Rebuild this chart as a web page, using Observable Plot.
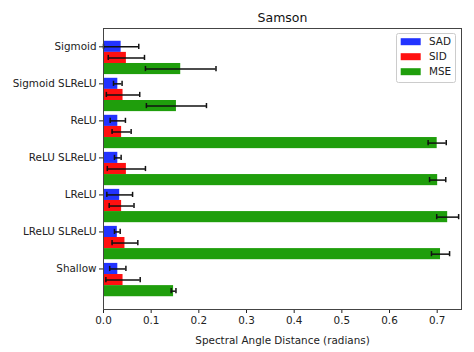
<!DOCTYPE html>
<html>
<head>
<meta charset="utf-8">
<script src="https://cdn.jsdelivr.net/npm/d3@7"></script>
<script src="https://cdn.jsdelivr.net/npm/@observablehq/plot@0.6"></script>
<style>
  html, body { margin: 0; padding: 0; background: #fff; }
  #chart svg { display: block; }
</style>
</head>
<body>
<div id="chart"></div>
<script>
const title = "Samson";
const xLabel = "Spectral Angle Distance (radians)";
const categories = ["Sigmoid", "Sigmoid SLReLU", "ReLU", "ReLU SLReLU", "LReLU", "LReLU SLReLU", "Shallow"];
const metrics = ["SAD", "SID", "MSE"];
const colors = ["#2233ff", "#ff1010", "#1f9e0c"];
const xTicks = [0, 0.1, 0.2, 0.3, 0.4, 0.5, 0.6, 0.7];

const sad    = [0.037, 0.030, 0.030, 0.030, 0.034, 0.029, 0.030];
const sadErr = [0.037, 0.009, 0.016, 0.007, 0.027, 0.006, 0.017];
const sid    = [0.048, 0.041, 0.038, 0.048, 0.038, 0.045, 0.041];
const sidErr = [0.038, 0.035, 0.020, 0.040, 0.026, 0.027, 0.036];
const mse    = [0.162, 0.153, 0.700, 0.701, 0.722, 0.707, 0.147];
const mseErr = [0.074, 0.063, 0.019, 0.017, 0.023, 0.019, 0.005];

const series = [[sad, sadErr], [sid, sidErr], [mse, mseErr]];
const rows = [];
categories.forEach((c, i) => {
  series.forEach(([vals, errs], k) => {
    rows.push({cat: c, i, k, metric: metrics[k], value: vals[i], err: errs[i], c: i + k * 0.3});
  });
});

const barH = 0.3;
const capH = 0.07;

const plot = Plot.plot({
  width: 474,
  height: 352,
  marginLeft: 103,
  marginRight: 13,
  marginTop: 28,
  marginBottom: 43,
  style: {fontFamily: "DejaVu Sans", fontSize: "10.4px", background: "#fff", color: "#222"},
  x: {domain: [0, 0.751], ticks: xTicks, tickFormat: d3.format(".1f"), label: null, tickSize: 4, tickPadding: 3},
  y: {domain: [-0.495, 7.095], reverse: true, ticks: d3.range(categories.length), tickFormat: i => categories[i], label: null, tickSize: 4, tickPadding: 3},
  marks: [
    Plot.rectX(rows, {x1: 0, x2: "value", y1: d => d.c - barH / 2, y2: d => d.c + barH / 2, fill: d => colors[d.k]}),
    Plot.ruleY(rows, {y: "c", x1: d => d.value - d.err, x2: d => d.value + d.err, stroke: "#111", strokeWidth: 1.5}),
    Plot.ruleX(rows, {x: d => d.value - d.err, y1: d => d.c - capH, y2: d => d.c + capH, stroke: "#111", strokeWidth: 1.5}),
    Plot.ruleX(rows, {x: d => d.value + d.err, y1: d => d.c - capH, y2: d => d.c + capH, stroke: "#111", strokeWidth: 1.5}),
    Plot.frame({stroke: "#444", strokeWidth: 1}),
    Plot.text([title], {frameAnchor: "top", dy: -11, fontSize: 12.5, fill: "#111", lineAnchor: "middle"}),
    Plot.text([xLabel], {frameAnchor: "bottom", dy: 31, fontSize: 10.4, fill: "#222", lineAnchor: "middle"})
  ]
});

// Legend inside the plot area (upper right)
const svg = d3.select(plot);
const lg = svg.append("g").attr("font-family", "DejaVu Sans").attr("font-size", 10.4).attr("text-anchor", "start");
lg.append("rect").attr("x", 396.5).attr("y", 33.5).attr("width", 59).attr("height", 49)
  .attr("rx", 2).attr("fill", "#fff").attr("fill-opacity", 0.8).attr("stroke", "#ccc");
metrics.forEach((m, k) => {
  const cy = 41.7 + k * 15;
  lg.append("rect").attr("x", 400.7).attr("y", cy - 3.5).attr("width", 20).attr("height", 7).attr("fill", colors[k]);
  lg.append("text").attr("x", 429).attr("y", cy).attr("dy", "0.35em").attr("text-anchor", "start").attr("fill", "#222").text(m);
});

document.getElementById("chart").appendChild(plot);
</script>
</body>
</html>
